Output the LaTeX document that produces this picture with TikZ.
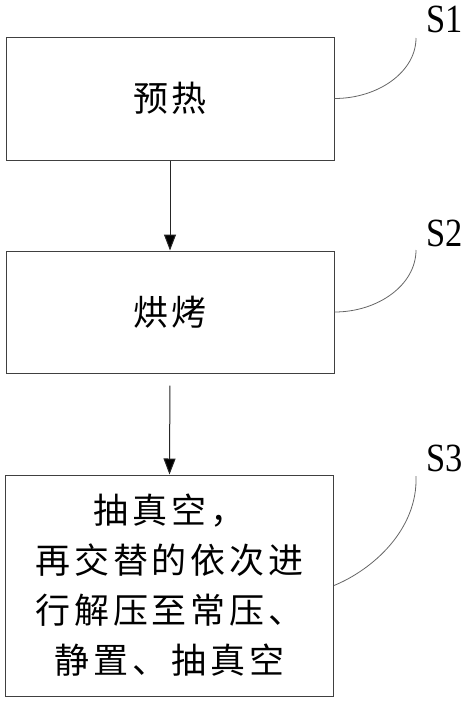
\documentclass[tikz,border=0pt]{standalone}
\usepackage{fontspec}
\setmainfont{Liberation Serif}
\newfontfamily\cjk[LetterSpace=11]{Noto Sans CJK SC}
\usetikzlibrary{arrows.meta}
\tikzset{
  box/.style={draw=black!75, line width=1pt, minimum width=328pt, inner sep=0pt, align=center,
    font=\cjk\fontsize{35}{50}\selectfont},
  arr/.style={draw=black!85, line width=1pt, -{Triangle[width=12pt,length=16pt,fill=black]}},
  lead/.style={draw=black!60, line width=0.8pt},
  lab/.style={font=\fontsize{40}{40}\selectfont, xscale=0.86, inner sep=0pt}
}
\begin{document}
\begin{tikzpicture}[x=1pt,y=-1pt]
\useasboundingbox (0,0) rectangle (474,705);
\node[box, minimum height=123pt] (b1) at (170,98.5) {预\hspace{4pt}热};
\node[box, minimum height=122pt] (b2) at (170,312) {烘\hspace{4pt}烤};
\node[box, minimum height=221pt] (b3) at (169.5,585.5) {抽真空，\\再交替的依次进\\行解压至常压、\\静置、抽真空};
\draw[arr] (b1.south) -- (b2.north);
\draw[arr, shorten <=12pt] (b2.south) -- (b3.north);
\node[lab] (s1) at (445,19) {S1};
\node[lab] (s2) at (445,233) {S2};
\node[lab] (s3) at (445,458) {S3};
\coordinate (c1) at (416,38);
\coordinate (c2) at (416,250);
\coordinate (c3) at (416,476);
\draw[lead] (c1) .. controls (416,72) and (378,98.5) .. (b1.east);
\draw[lead] (c2) .. controls (416,285) and (378,312) .. (b2.east);
\draw[lead] (c3) .. controls (418,530) and (372,570) .. (b3.east);
\end{tikzpicture}
\end{document}
